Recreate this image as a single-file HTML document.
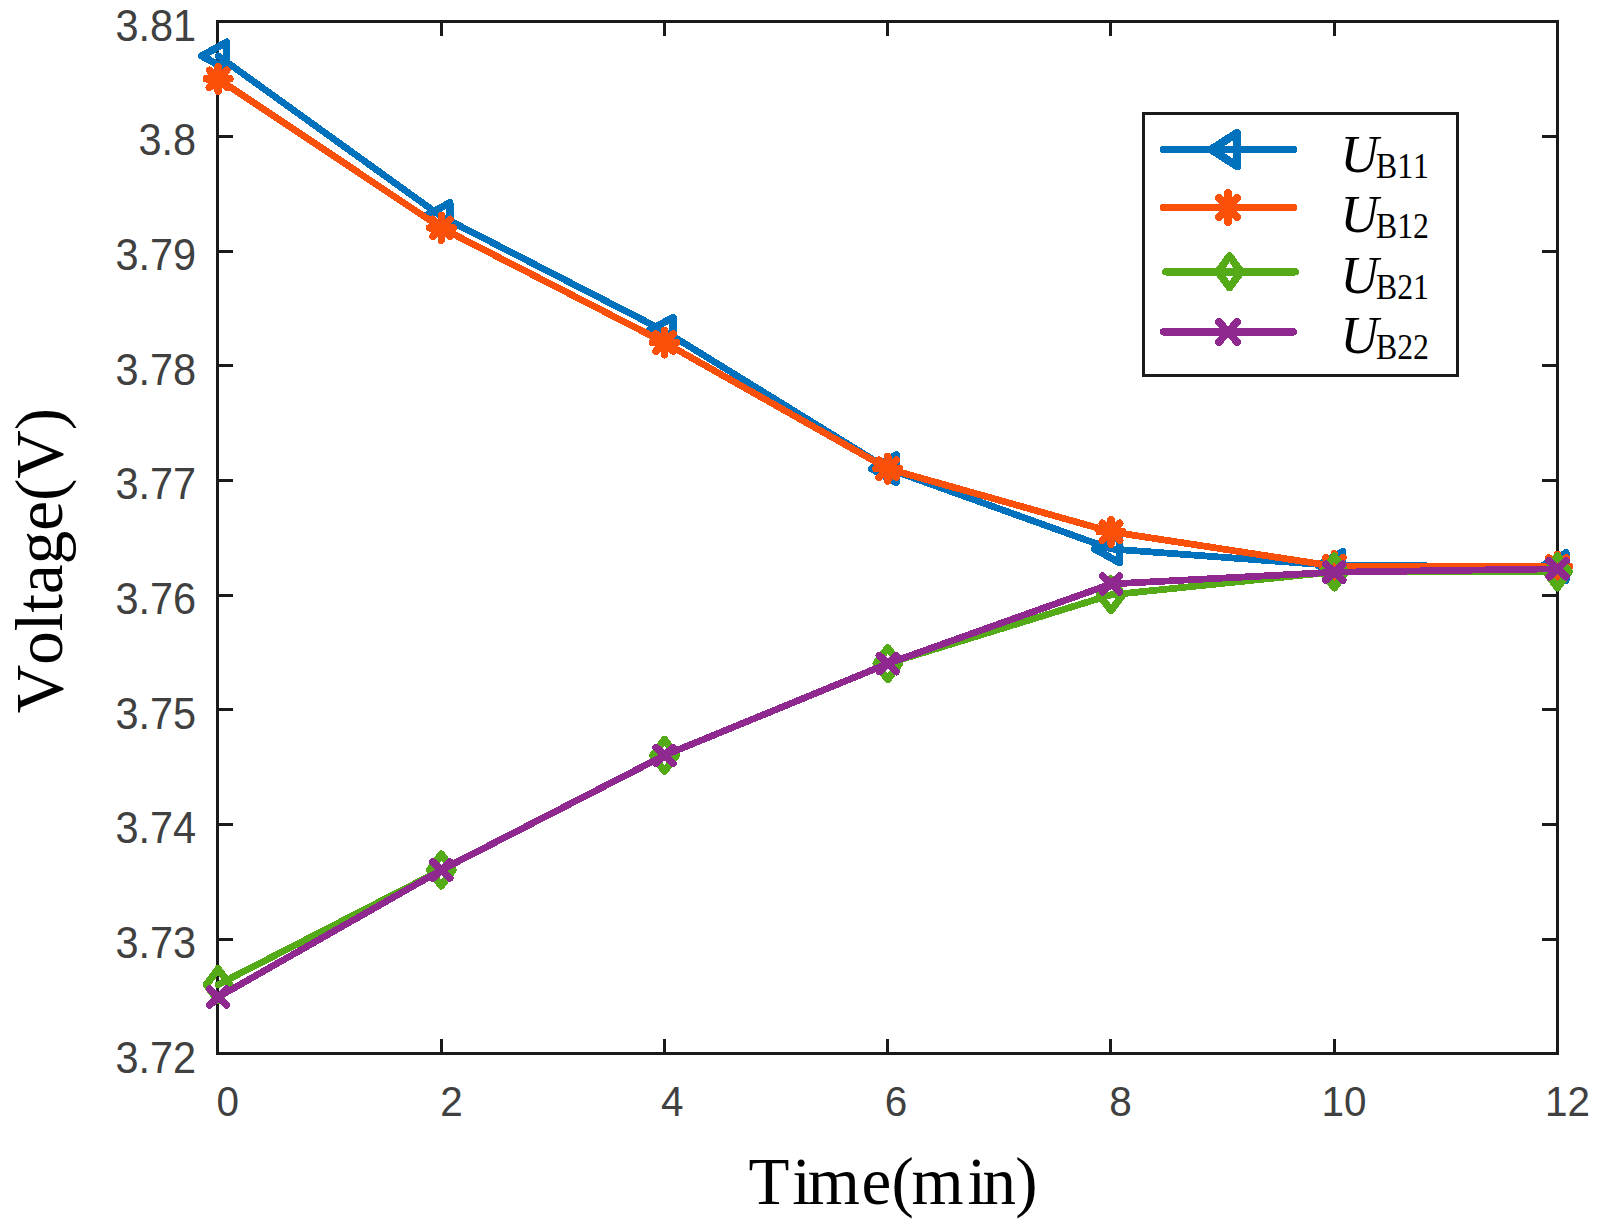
<!DOCTYPE html>
<html lang="en"><head><meta charset="utf-8"><title>Voltage vs Time</title>
<style>
html,body{margin:0;padding:0;background:#fff;}
body{width:1599px;height:1228px;overflow:hidden;}
svg{display:block;}
text{font-kerning:none;}
.tk{font-family:"Liberation Sans",Arial,sans-serif;font-size:41.5px;fill:#404040;}
.al{font-family:"Liberation Serif","Times New Roman",serif;font-size:67px;fill:#000;}
.lu{font-family:"Liberation Serif","Times New Roman",serif;font-style:italic;font-size:52.5px;fill:#000;}
.ls{font-family:"Liberation Serif","Times New Roman",serif;font-style:normal;font-size:34px;fill:#000;}
</style></head><body>
<svg width="1599" height="1228" viewBox="0 0 1599 1228">
<rect x="0" y="0" width="1599" height="1228" fill="#ffffff"/>
<g stroke="#1a1a1a" stroke-width="3" fill="none" stroke-linecap="butt">
<rect x="217.5" y="21.5" width="1340" height="1032" stroke-linejoin="miter"/>
<path d="M441.5 1053.5 V1039 M441.5 21.5 V36 M664.5 1053.5 V1039 M664.5 21.5 V36 M887.5 1053.5 V1039 M887.5 21.5 V36 M1110.5 1053.5 V1039 M1110.5 21.5 V36 M1334.5 1053.5 V1039 M1334.5 21.5 V36 M217.5 939.5 H233 M1557.5 939.5 H1542 M217.5 824.5 H233 M1557.5 824.5 H1542 M217.5 709.5 H233 M1557.5 709.5 H1542 M217.5 595.5 H233 M1557.5 595.5 H1542 M217.5 480.5 H233 M1557.5 480.5 H1542 M217.5 365.5 H233 M1557.5 365.5 H1542 M217.5 251.5 H233 M1557.5 251.5 H1542 M217.5 136.5 H233 M1557.5 136.5 H1542"/>
</g>
<g class="tk" text-anchor="middle">
<text style="font-size:40.5px" transform="translate(227.7 1116) scale(1 1.055)">0</text>
<text style="font-size:40.5px" transform="translate(451.4 1116) scale(1 1.055)">2</text>
<text style="font-size:40.5px" transform="translate(672.3 1116) scale(1 1.055)">4</text>
<text style="font-size:40.5px" transform="translate(895.9 1116) scale(1 1.055)">6</text>
<text style="font-size:40.5px" transform="translate(1120.5 1116) scale(1 1.055)">8</text>
<text style="font-size:40.5px" transform="translate(1344.1 1116) scale(1 1.055)">10</text>
<text style="font-size:40.5px" transform="translate(1567.5 1116) scale(1 1.055)">12</text>
</g>
<g class="tk" text-anchor="end">
<text transform="translate(196.2 1072.7) scale(1 1.07)">3.72</text>
<text transform="translate(196.2 958.03) scale(1 1.07)">3.73</text>
<text transform="translate(196.2 843.37) scale(1 1.07)">3.74</text>
<text transform="translate(196.2 728.7) scale(1 1.07)">3.75</text>
<text transform="translate(196.2 614.03) scale(1 1.07)">3.76</text>
<text transform="translate(196.2 499.37) scale(1 1.07)">3.77</text>
<text transform="translate(196.2 384.7) scale(1 1.07)">3.78</text>
<text transform="translate(196.2 270.03) scale(1 1.07)">3.79</text>
<text transform="translate(196.2 155.37) scale(1 1.07)">3.8</text>
<text transform="translate(196.2 40.7) scale(1 1.07)">3.81</text>
</g>
<text class="al" x="748.44 792.18 807.81 861.43 891.38 911.49 967.42 982.54 1015.24" y="1203.9">Time(min)</text>
<text class="al" text-anchor="middle" transform="translate(62 560.6) rotate(-90)">Voltage(V)</text>
<g shape-rendering="crispEdges">
<polyline points="218.1,55.9 441.33,216.43 664.57,331.1 887.8,468.7 1111.03,548.97 1334.27,565.48 1557.5,566.51" fill="none" stroke="#0072BD" stroke-width="6.8" stroke-linejoin="round" stroke-linecap="round"/>
<path d="M201.8 55.9 L226.6 42.2 L226.6 69.6 Z" fill="none" stroke="#0072BD" stroke-width="7.4" stroke-linejoin="round" stroke-linecap="round"/>
<path d="M425.03 216.43 L449.83 202.73 L449.83 230.13 Z" fill="none" stroke="#0072BD" stroke-width="7.4" stroke-linejoin="round" stroke-linecap="round"/>
<path d="M648.27 331.1 L673.07 317.4 L673.07 344.8 Z" fill="none" stroke="#0072BD" stroke-width="7.4" stroke-linejoin="round" stroke-linecap="round"/>
<path d="M871.5 468.7 L896.3 455 L896.3 482.4 Z" fill="none" stroke="#0072BD" stroke-width="7.4" stroke-linejoin="round" stroke-linecap="round"/>
<path d="M1094.73 548.97 L1119.53 535.27 L1119.53 562.67 Z" fill="none" stroke="#0072BD" stroke-width="7.4" stroke-linejoin="round" stroke-linecap="round"/>
<path d="M1317.97 565.48 L1342.77 551.78 L1342.77 579.18 Z" fill="none" stroke="#0072BD" stroke-width="7.4" stroke-linejoin="round" stroke-linecap="round"/>
<path d="M1541.2 566.51 L1566 552.81 L1566 580.21 Z" fill="none" stroke="#0072BD" stroke-width="7.4" stroke-linejoin="round" stroke-linecap="round"/>
<polyline points="218.1,78.83 441.33,227.9 664.57,342.57 887.8,468.7 1111.03,531.77 1334.27,566.17 1557.5,566.63" fill="none" stroke="#FA500A" stroke-width="6.8" stroke-linejoin="round" stroke-linecap="round"/>
<path d="M218.1 66.53 L218.1 91.13 M206.2 78.83 L230 78.83 M209.4 70.23 L226.8 87.43 M209.4 87.43 L226.8 70.23" fill="none" stroke="#FA500A" stroke-width="7.4" stroke-linejoin="round" stroke-linecap="round"/>
<path d="M441.33 215.6 L441.33 240.2 M429.43 227.9 L453.23 227.9 M432.63 219.3 L450.03 236.5 M432.63 236.5 L450.03 219.3" fill="none" stroke="#FA500A" stroke-width="7.4" stroke-linejoin="round" stroke-linecap="round"/>
<path d="M664.57 330.27 L664.57 354.87 M652.67 342.57 L676.47 342.57 M655.87 333.97 L673.27 351.17 M655.87 351.17 L673.27 333.97" fill="none" stroke="#FA500A" stroke-width="7.4" stroke-linejoin="round" stroke-linecap="round"/>
<path d="M887.8 456.4 L887.8 481 M875.9 468.7 L899.7 468.7 M879.1 460.1 L896.5 477.3 M879.1 477.3 L896.5 460.1" fill="none" stroke="#FA500A" stroke-width="7.4" stroke-linejoin="round" stroke-linecap="round"/>
<path d="M1111.03 519.47 L1111.03 544.07 M1099.13 531.77 L1122.93 531.77 M1102.33 523.17 L1119.73 540.37 M1102.33 540.37 L1119.73 523.17" fill="none" stroke="#FA500A" stroke-width="7.4" stroke-linejoin="round" stroke-linecap="round"/>
<path d="M1334.27 553.87 L1334.27 578.47 M1322.37 566.17 L1346.17 566.17 M1325.57 557.57 L1342.97 574.77 M1325.57 574.77 L1342.97 557.57" fill="none" stroke="#FA500A" stroke-width="7.4" stroke-linejoin="round" stroke-linecap="round"/>
<path d="M1557.5 554.33 L1557.5 578.93 M1545.6 566.63 L1569.4 566.63 M1548.8 558.03 L1566.2 575.23 M1548.8 575.23 L1566.2 558.03" fill="none" stroke="#FA500A" stroke-width="7.4" stroke-linejoin="round" stroke-linecap="round"/>
<polyline points="218.1,984.7 441.33,870.03 664.57,755.37 887.8,663.63 1111.03,594.83 1334.27,571.9 1557.5,571.9" fill="none" stroke="#55AA17" stroke-width="6.8" stroke-linejoin="round" stroke-linecap="round"/>
<path d="M218.1 968.9 L229.9 984.7 L218.1 1000.5 L206.3 984.7 Z" fill="none" stroke="#55AA17" stroke-width="7.4" stroke-linejoin="round" stroke-linecap="round"/>
<path d="M441.33 854.23 L453.13 870.03 L441.33 885.83 L429.53 870.03 Z" fill="none" stroke="#55AA17" stroke-width="7.4" stroke-linejoin="round" stroke-linecap="round"/>
<path d="M664.57 739.57 L676.37 755.37 L664.57 771.17 L652.77 755.37 Z" fill="none" stroke="#55AA17" stroke-width="7.4" stroke-linejoin="round" stroke-linecap="round"/>
<path d="M887.8 647.83 L899.6 663.63 L887.8 679.43 L876 663.63 Z" fill="none" stroke="#55AA17" stroke-width="7.4" stroke-linejoin="round" stroke-linecap="round"/>
<path d="M1111.03 579.03 L1122.83 594.83 L1111.03 610.63 L1099.23 594.83 Z" fill="none" stroke="#55AA17" stroke-width="7.4" stroke-linejoin="round" stroke-linecap="round"/>
<path d="M1334.27 556.1 L1346.07 571.9 L1334.27 587.7 L1322.47 571.9 Z" fill="none" stroke="#55AA17" stroke-width="7.4" stroke-linejoin="round" stroke-linecap="round"/>
<path d="M1557.5 556.1 L1569.3 571.9 L1557.5 587.7 L1545.7 571.9 Z" fill="none" stroke="#55AA17" stroke-width="7.4" stroke-linejoin="round" stroke-linecap="round"/>
<polyline points="218.1,997.08 441.33,870.03 664.57,755.37 887.8,663.63 1111.03,583.94 1334.27,572.24 1557.5,568.8" fill="none" stroke="#90298F" stroke-width="6.8" stroke-linejoin="round" stroke-linecap="round"/>
<path d="M209.6 989.08 L226.6 1005.08 M209.6 1005.08 L226.6 989.08" fill="none" stroke="#90298F" stroke-width="7.4" stroke-linejoin="round" stroke-linecap="round"/>
<path d="M432.83 862.03 L449.83 878.03 M432.83 878.03 L449.83 862.03" fill="none" stroke="#90298F" stroke-width="7.4" stroke-linejoin="round" stroke-linecap="round"/>
<path d="M656.07 747.37 L673.07 763.37 M656.07 763.37 L673.07 747.37" fill="none" stroke="#90298F" stroke-width="7.4" stroke-linejoin="round" stroke-linecap="round"/>
<path d="M879.3 655.63 L896.3 671.63 M879.3 671.63 L896.3 655.63" fill="none" stroke="#90298F" stroke-width="7.4" stroke-linejoin="round" stroke-linecap="round"/>
<path d="M1102.53 575.94 L1119.53 591.94 M1102.53 591.94 L1119.53 575.94" fill="none" stroke="#90298F" stroke-width="7.4" stroke-linejoin="round" stroke-linecap="round"/>
<path d="M1325.77 564.24 L1342.77 580.24 M1325.77 580.24 L1342.77 564.24" fill="none" stroke="#90298F" stroke-width="7.4" stroke-linejoin="round" stroke-linecap="round"/>
<path d="M1549 560.8 L1566 576.8 M1549 576.8 L1566 560.8" fill="none" stroke="#90298F" stroke-width="7.4" stroke-linejoin="round" stroke-linecap="round"/>
</g>
<rect x="1143.5" y="113.5" width="314" height="262" fill="#ffffff" stroke="#1a1a1a" stroke-width="3"/>
<g shape-rendering="crispEdges">
<path d="M1163.5 149.5 H1293.3" fill="none" stroke="#0072BD" stroke-width="7.4" stroke-linecap="round"/>
<path d="M1211.2 149.5 L1237.1 132.9 L1237.1 166.1 Z" fill="none" stroke="#0072BD" stroke-width="8.2" stroke-linejoin="round" stroke-linecap="round"/>
<path d="M1163.5 207.5 H1293.3" fill="none" stroke="#FA500A" stroke-width="7.4" stroke-linecap="round"/>
<path d="M1228 192.8 L1228 222.2 M1216 207.5 L1240 207.5 M1218.7 197.6 L1237.3 217.4 M1218.7 217.4 L1237.3 197.6" fill="none" stroke="#FA500A" stroke-width="7.6" stroke-linejoin="round" stroke-linecap="round"/>
<path d="M1165.8 271.8 H1295.3" fill="none" stroke="#55AA17" stroke-width="7.4" stroke-linecap="round"/>
<path d="M1229.5 256.1 L1241.1 271.8 L1229.5 287.5 L1217.9 271.8 Z" fill="none" stroke="#55AA17" stroke-width="7.6" stroke-linejoin="round" stroke-linecap="round"/>
<path d="M1163.5 331.9 H1293.1" fill="none" stroke="#90298F" stroke-width="7.4" stroke-linecap="round"/>
<path d="M1218.7 321.6 L1237.3 342.2 M1218.7 342.2 L1237.3 321.6" fill="none" stroke="#90298F" stroke-width="7.6" stroke-linejoin="round" stroke-linecap="round"/>
</g>
<text class="lu" x="1340.5" y="172">U</text>
<text class="ls" transform="translate(1376 178.2) scale(0.935 1.05)">B11</text>
<text class="lu" x="1340.5" y="232.2">U</text>
<text class="ls" transform="translate(1376 238.4) scale(0.935 1.05)">B12</text>
<text class="lu" x="1340.5" y="292.9">U</text>
<text class="ls" transform="translate(1376 299.1) scale(0.935 1.05)">B21</text>
<text class="lu" x="1340.5" y="353.1">U</text>
<text class="ls" transform="translate(1376 359.3) scale(0.935 1.05)">B22</text>
</svg>
</body></html>
